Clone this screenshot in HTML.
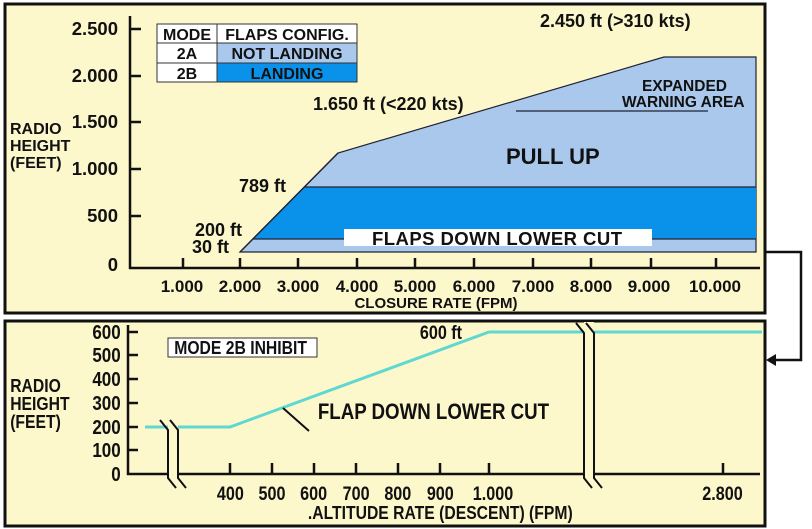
<!DOCTYPE html>
<html><head><style>
html,body{margin:0;padding:0;background:#fff;}
svg{display:block;}
text{font-family:"Liberation Sans",Arial,sans-serif;font-weight:bold;fill:#111;}
</style></head><body>
<svg width="812" height="529" viewBox="0 0 812 529" xmlns="http://www.w3.org/2000/svg">
<!-- top panel -->
<rect x="5" y="4" width="760" height="309" fill="#fdf8cc" stroke="#111" stroke-width="3"/>
<polygon points="240,252 338,153 664,57 756,57 756,252" fill="#a9c8ec" stroke="#223" stroke-width="1.2"/>
<polygon points="305,187 756,187 756,239 253,239" fill="#0a92ea"/>
<line x1="305" y1="187" x2="756" y2="187" stroke="#223" stroke-width="1.2"/>
<line x1="253" y1="239" x2="756" y2="239" stroke="#223" stroke-width="1.2"/>
<line x1="240" y1="252" x2="338" y2="153" stroke="#223" stroke-width="1.4"/>
<line x1="516" y1="111" x2="708" y2="111" stroke="#223" stroke-width="1.2"/>
<rect x="344" y="229" width="308" height="17" fill="#fff"/>
<text x="372" y="245" font-size="18.5" textLength="250">FLAPS DOWN LOWER CUT</text>
<text x="506" y="164" font-size="22">PULL UP</text>
<text x="642" y="91" font-size="15.5">EXPANDED</text>
<text x="622" y="107" font-size="15.5">WARNING AREA</text>
<text x="313" y="110" font-size="18">1.650 ft (&lt;220 kts)</text>
<text x="540" y="27" font-size="18">2.450 ft (&gt;310 kts)</text>
<text x="239" y="192" font-size="18">789 ft</text>
<text x="195" y="236" font-size="18">200 ft</text>
<text x="192" y="253" font-size="18">30 ft</text>
<!-- axes -->
<g stroke="#111" stroke-width="2.5">
<line x1="130" y1="16" x2="130" y2="269"/>
<line x1="129" y1="268" x2="760" y2="268"/>
<line x1="130" y1="29" x2="141" y2="29"/>
<line x1="130" y1="76" x2="141" y2="76"/>
<line x1="130" y1="122" x2="141" y2="122"/>
<line x1="130" y1="169" x2="141" y2="169"/>
<line x1="130" y1="216" x2="141" y2="216"/>
<line x1="183" y1="258" x2="183" y2="268"/>
<line x1="240" y1="258" x2="240" y2="268"/>
<line x1="298" y1="258" x2="298" y2="268"/>
<line x1="357" y1="258" x2="357" y2="268"/>
<line x1="415" y1="258" x2="415" y2="268"/>
<line x1="474" y1="258" x2="474" y2="268"/>
<line x1="533" y1="258" x2="533" y2="268"/>
<line x1="591" y1="258" x2="591" y2="268"/>
<line x1="651" y1="258" x2="651" y2="268"/>
<line x1="716" y1="258" x2="716" y2="268"/>
</g>
<g font-size="18.5" text-anchor="end">
<text x="118" y="35">2.500</text>
<text x="118" y="82">2.000</text>
<text x="118" y="128">1.500</text>
<text x="118" y="175">1.000</text>
<text x="118" y="222">500</text>
<text x="118" y="271">0</text>
</g>
<g font-size="17" text-anchor="middle">
<text x="182" y="292">1.000</text>
<text x="240" y="292">2.000</text>
<text x="298" y="292">3.000</text>
<text x="357" y="292">4.000</text>
<text x="415" y="292">5.000</text>
<text x="474" y="292">6.000</text>
<text x="533" y="292">7.000</text>
<text x="591" y="292">8.000</text>
<text x="649" y="292">9.000</text>
<text x="715" y="292">10.000</text>
</g>
<text x="436" y="308" font-size="15" text-anchor="middle">CLOSURE RATE (FPM)</text>
<g font-size="16"><text x="10" y="134">RADIO</text><text x="10" y="151">HEIGHT</text><text x="10" y="168">(FEET)</text></g>
<!-- table -->
<rect x="157" y="24" width="200" height="58" fill="#fff" stroke="#333" stroke-width="1"/>
<rect x="217" y="43" width="140" height="20" fill="#a9c8ec"/>
<rect x="217" y="63" width="140" height="19" fill="#0a92ea"/>
<g stroke="#333" stroke-width="1" fill="none">
<rect x="157" y="24" width="200" height="58"/>
<line x1="157" y1="43" x2="357" y2="43"/>
<line x1="157" y1="63" x2="357" y2="63"/>
<line x1="217" y1="24" x2="217" y2="82"/>
</g>
<g font-size="16" text-anchor="middle">
<text x="187" y="40">MODE</text><text x="287" y="40">FLAPS CONFIG.</text>
<text x="187" y="59">2A</text><text x="287" y="59">NOT LANDING</text>
<text x="187" y="79">2B</text><text x="287" y="79">LANDING</text>
</g>
<!-- connector -->
<polyline points="766,252 801,252 801,360 774,360" fill="none" stroke="#111" stroke-width="2.5"/>
<polygon points="766,360 776,354 776,366" fill="#111"/>
<!-- bottom panel -->
<rect x="5" y="321" width="760" height="205" fill="#fdf8cc" stroke="#111" stroke-width="3"/>
<polyline points="145,427 230,427 489,332 762,332" fill="none" stroke="#5fd8cf" stroke-width="3"/>
<g stroke="#111" stroke-width="2.5">
<line x1="128" y1="325" x2="128" y2="475"/>
<line x1="127" y1="474" x2="760" y2="474"/>
<line x1="128" y1="332" x2="138" y2="332"/>
<line x1="128" y1="355" x2="138" y2="355"/>
<line x1="128" y1="379" x2="138" y2="379"/>
<line x1="128" y1="403" x2="138" y2="403"/>
<line x1="128" y1="427" x2="138" y2="427"/>
<line x1="128" y1="450" x2="138" y2="450"/>
<line x1="230" y1="463" x2="230" y2="474"/>
<line x1="272" y1="463" x2="272" y2="474"/>
<line x1="314" y1="463" x2="314" y2="474"/>
<line x1="356" y1="463" x2="356" y2="474"/>
<line x1="398" y1="463" x2="398" y2="474"/>
<line x1="440" y1="463" x2="440" y2="474"/>
<line x1="489" y1="463" x2="489" y2="474"/>
<line x1="723" y1="463" x2="723" y2="474"/>
</g>
<!-- break marks -->
<polygon points="168,418 178,418 178,483 168,483" fill="#fdf8cc"/>
<g stroke="#111" stroke-width="2" fill="none">
<polyline points="160,420 168,430 168,478 176,488"/>
<polyline points="170,420 178,430 178,478 186,488"/>
</g>
<polygon points="584,322 594,322 594,485 584,485" fill="#fdf8cc"/>
<g stroke="#111" stroke-width="2" fill="none">
<polyline points="576,323 584,333 584,478 592,488"/>
<polyline points="586,323 594,333 594,478 602,488"/>
</g>
<line x1="283" y1="408" x2="309" y2="431" stroke="#111" stroke-width="2"/>
<rect x="168" y="338" width="149" height="19" fill="#fff" stroke="#333" stroke-width="1"/>
<g transform="scale(0.85,1)">
<text x="205" y="354" font-size="18.5">MODE 2B INHIBIT</text>
<text x="494" y="339" font-size="19">600 ft</text>
<text x="374" y="419" font-size="22">FLAP DOWN LOWER CUT</text>
<g font-size="20" text-anchor="end">
<text x="142" y="339">600</text><text x="142" y="362">500</text><text x="142" y="386">400</text>
<text x="142" y="410">300</text><text x="142" y="434">200</text><text x="142" y="457">100</text><text x="142" y="481">0</text>
</g>
<g font-size="19" text-anchor="middle">
<text x="271" y="500">400</text><text x="320" y="500">500</text><text x="369" y="500">600</text>
<text x="419" y="500">700</text><text x="468" y="500">800</text><text x="518" y="500">900</text>
<text x="580" y="500">1.000</text><text x="850" y="500">2.800</text>
</g>
<text x="518" y="519" font-size="18.5" text-anchor="middle">.ALTITUDE RATE (DESCENT) (FPM)</text>
<g font-size="18.5"><text x="12" y="392">RADIO</text><text x="12" y="410">HEIGHT</text><text x="12" y="428">(FEET)</text></g>
</g>
</svg>
</body></html>
